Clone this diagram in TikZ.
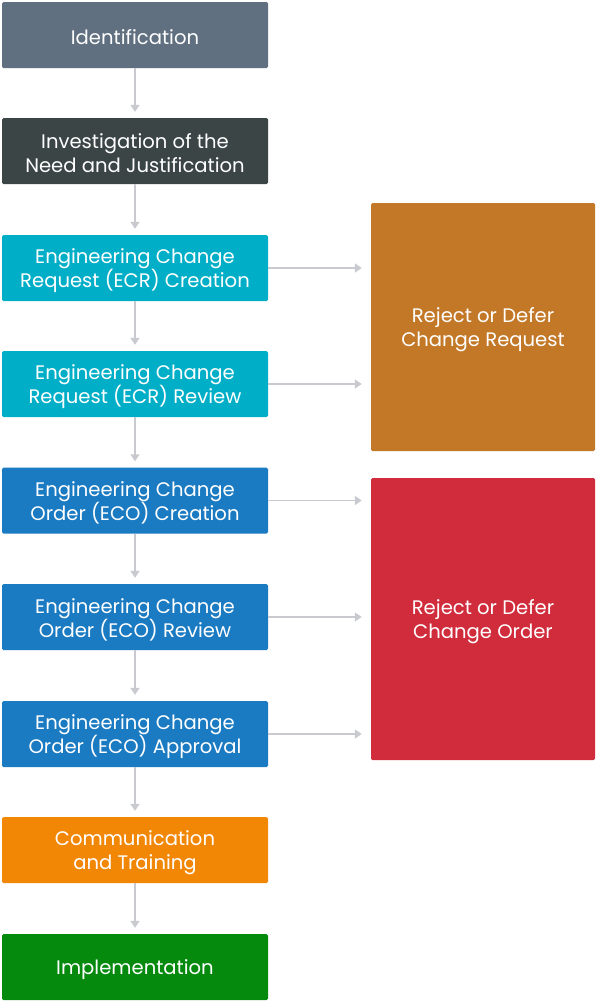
\documentclass[tikz,border=0pt]{standalone}
\usepackage{fontspec}
\setmainfont{Poppins}
\usetikzlibrary{arrows.meta}
\definecolor{cgray}{HTML}{607080}
\definecolor{cdark}{HTML}{3B4545}
\definecolor{ccyan}{HTML}{00AEC7}
\definecolor{cblue}{HTML}{1A7AC2}
\definecolor{corange}{HTML}{F28705}
\definecolor{cgreen}{HTML}{058A0E}
\definecolor{cbrown}{HTML}{C37828}
\definecolor{cred}{HTML}{D12C3B}
\definecolor{carrow}{HTML}{C8CACF}
\begin{document}
\begin{tikzpicture}[x=1pt,y=-1pt,
  box/.style={fill=#1,draw=none,rounded corners=1.5pt,
    minimum width=266pt,minimum height=66pt,inner sep=0pt},
  bigbox/.style={fill=#1,draw=none,rounded corners=1.5pt,
    minimum width=224pt,inner sep=0pt},
  txt/.style={text=white,align=center,inner sep=0pt,
    font=\fontsize{19.6}{24}\selectfont},
  conn/.style={draw=carrow,line width=1.6pt,-{Triangle[length=7pt,width=9pt]}}]
\useasboundingbox (0,0) rectangle (597,1004);
\node[box=cgray]   (b1) at (135,35)    {};
\node[box=cdark]   (b2) at (135,151)   {};
\node[box=ccyan]   (b3) at (135,268)   {};
\node[box=ccyan]   (b4) at (135,384)   {};
\node[box=cblue]   (b5) at (135,500.5) {};
\node[box=cblue]   (b6) at (135,617)   {};
\node[box=cblue]   (b7) at (135,734)   {};
\node[box=corange] (b8) at (135,850)   {};
\node[box=cgreen]  (b9) at (135,967)   {};
\node[bigbox=cbrown,minimum height=248pt] (r1) at (483,327) {};
\node[bigbox=cred,minimum height=282pt]   (r2) at (483,619) {};
\node[txt] (t1) at ([yshift=-2.5pt]b1.center) {Identification};
\node[txt] (t2) at ([yshift=-2.5pt]b2.center) {Investigation of the\\Need and Justification};
\node[txt] (t3) at ([yshift=-2.5pt]b3.center) {Engineering Change\\Request (ECR) Creation};
\node[txt] (t4) at ([yshift=-2.5pt]b4.center) {Engineering Change\\Request (ECR) Review};
\node[txt] (t5) at ([yshift=-2.5pt]b5.center) {Engineering Change\\Order (ECO) Creation};
\node[txt] (t6) at ([yshift=-2.5pt]b6.center) {Engineering Change\\Order (ECO) Review};
\node[txt] (t7) at ([yshift=-2.5pt]b7.center) {Engineering Change\\Order (ECO) Approval};
\node[txt] (t8) at ([yshift=-2.5pt]b8.center) {Communication\\and Training};
\node[txt] (t9) at ([yshift=-2.5pt]b9.center) {Implementation};
\node[txt] (tr1) at ([yshift=-2.5pt]r1.center) {Reject or Defer\\Change Request};
\node[txt] (tr2) at ([yshift=-2.5pt]r2.center) {Reject or Defer\\Change Order};
\foreach \a/\b in {b1/b2,b2/b3,b3/b4,b4/b5,b5/b6,b6/b7,b7/b8,b8/b9}
  \draw[conn,shorten >=6pt] (\a.south) -- (\b.north);
\draw[conn,shorten >=9pt] (b3.east) -- (b3.east -| r1.west);
\draw[conn,shorten >=9pt] (b4.east) -- (b4.east -| r1.west);
\draw[conn,shorten >=9pt] (b5.east) -- (b5.east -| r2.west);
\draw[conn,shorten >=9pt] (b6.east) -- (b6.east -| r2.west);
\draw[conn,shorten >=9pt] (b7.east) -- (b7.east -| r2.west);
\end{tikzpicture}
\end{document}
